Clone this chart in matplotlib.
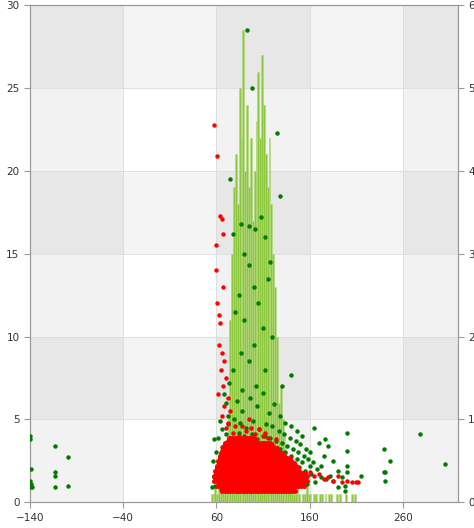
import numpy as np
import matplotlib.pyplot as plt

#-------------------------------------------------------------------------
# histogram (right axis, counts), bins of width 2
hist_left = np.arange(54, 210, 2)
hist_counts = [1, 1, 2, 1, 2, 3, 2, 4,
               6, 10, 22,
               30, 38,
               42, 36, 50, 44, 57, 40, 48, 38, 44, 34,
               40, 46, 52, 44, 54, 48, 42, 38, 44, 36, 30, 26, 20,
               12, 14, 10, 8, 6, 4, 2,
               2, 1, 1, 2, 1, 0, 1, 1, 2, 1, 1, 0, 1, 1, 0, 1, 1, 0, 1, 0,
               1, 1, 0, 0, 1, 0, 1, 0, 0, 1, 0, 0, 1, 0, 1]

# green points
green_x = [-140, -140, -139, -140, -139, -140, -138, -140, -113, -113, -113, -113, -99, -99,
           165, 200, 200, 200, 200, 198, 198, 215, 240, 240, 241, 246, 241, 278, 305,
           176, 180, 185, 190, 185, 190, 175, 170, 172, 182, 195,
           93, 98, 125, 128, 75, 78, 86, 95, 101, 108, 112, 90, 95, 118, 115, 100, 105,
           84, 80, 90, 110, 120, 100, 140, 86, 95, 112, 130, 78, 102, 88, 70, 72, 64,
           68, 74, 82, 88, 96, 104, 110, 116, 122, 128, 134, 140, 146, 152,
           66, 72, 79, 85, 92, 99, 106, 113, 120, 127, 133, 139, 145, 150, 156, 160,
           58, 62, 70, 76, 84, 90, 98, 104, 112, 118, 124, 130, 136, 142, 148, 154, 158, 164,
           56, 60, 66, 74, 80, 88, 94, 102, 108, 116, 122, 128, 134, 140, 146, 152, 160, 168,
           57, 63, 69, 77, 86, 93, 100, 107, 114, 121, 131, 137, 143, 149, 155, 162, 172,
           55, 59, 65, 82, 97, 119, 135, 147, 157, 166, 178]
green_y = [4.0, 3.8, 2.0, 1.3, 1.1, 0.9, 0.9, 1.0, 3.4, 1.8, 1.6, 0.9, 2.7, 1.0,
           4.5, 4.2, 3.1, 2.2, 1.8, 1.0, 0.7, 1.6, 3.2, 1.8, 1.3, 2.5, 1.8, 4.1, 2.3,
           3.8, 3.4, 2.5, 1.9, 1.3, 0.9, 2.8, 3.6, 2.2, 1.6, 1.5,
           28.5, 25.0, 22.3, 18.5, 19.5, 16.2, 16.8, 16.7, 16.5, 17.2, 16.0, 15.0, 14.3, 14.5, 13.5, 13.0, 12.0,
           12.5, 11.5, 11.0, 10.5, 10.0, 9.5, 7.7, 9.0, 8.5, 8.0, 7.0, 8.0, 7.0, 6.8, 6.0, 5.2, 4.9,
           6.5, 7.2, 6.1, 5.5, 6.3, 5.8, 6.6, 5.4, 5.9, 5.2, 4.8, 4.6, 4.3, 4.0,
           4.4, 4.7, 5.0, 4.8, 4.5, 4.9, 4.4, 4.7, 4.6, 4.3, 4.1, 3.9, 3.7, 3.5, 3.2, 3.0,
           3.8, 3.9, 4.1, 3.9, 4.2, 4.0, 4.1, 3.8, 4.0, 3.9, 3.7, 3.6, 3.4, 3.2, 3.0, 2.8, 2.6, 2.4,
           2.5, 3.0, 3.3, 3.5, 3.6, 3.7, 3.8, 3.6, 3.5, 3.4, 3.3, 3.2, 3.0, 2.8, 2.6, 2.4, 2.2, 2.0,
           1.5, 2.0, 2.7, 3.0, 3.2, 3.3, 3.1, 3.0, 2.9, 2.8, 2.7, 2.5, 2.3, 2.1, 1.9, 1.7, 1.5,
           0.9, 1.0, 0.8, 0.7, 0.7, 0.8, 0.9, 1.0, 1.1, 1.2, 1.4]

# red points
red_x = [57, 61, 64, 66, 67, 60, 60, 67, 61, 63, 64, 63, 66, 68, 65, 70, 67, 62, 72, 68, 75, 66, 73, 80, 70, 95, 110, 120,
         78, 84, 92, 101, 106, 115, 124, 88, 97, 112,
         160, 165, 170, 175, 180, 185, 190, 195, 200, 205, 210, 212]
red_y = [22.8, 20.9, 17.3, 17.1, 16.2, 15.5, 14.0, 13.0, 12.0, 11.3, 10.8, 9.5, 9.0, 8.5, 8.0, 7.5, 7.0, 6.5, 6.3, 5.8, 5.5, 5.2, 4.8, 4.6, 4.5, 5.0, 4.0, 3.5,
         4.2, 4.0, 4.3, 4.1, 4.4, 3.9, 3.8, 4.6, 4.5, 4.2,
         1.8, 1.6, 1.7, 1.4, 1.5, 1.3, 1.6, 1.2, 1.3, 1.2, 1.2, 1.2]

# dense red blob: rows of x positions at given y levels
blob_levels = [0.7, 1.0, 1.3, 1.6, 1.9, 2.2, 2.5, 2.8, 3.1, 3.4, 3.7]
blob_x0 = [66, 61, 58, 58, 59, 61, 62, 64, 66, 68, 72]
blob_x1 = [146, 156, 160, 158, 152, 148, 142, 136, 128, 120, 104]

#-------------------------------------------------------------------------

fig = plt.figure(figsize = (4.74, 5.28), dpi = 100)
ax = fig.add_axes([0.063, 0.049, 0.903, 0.941])
ax2 = ax.twinx()
ax.set_zorder(ax2.get_zorder() + 1)
ax.patch.set_visible(False)

xmax = 319
xb = [-140, -40, 60, 160, 260, xmax]
for i in range(len(xb) - 1):
    for j in range(6):
        shade = (i % 2 == 0) * 0.05 + (j % 2 == 1) * 0.045
        c = 1 - shade
        ax2.fill_between([xb[i], xb[i+1]], j*10, (j+1)*10, color = (c, c, c), lw = 0, zorder = 0)
for v in xb[1:-1]:
    ax2.axvline(v, color = "#dcdcdc", lw = 0.6, zorder = 0.5)
for v in range(10, 60, 10):
    ax2.axhline(v, color = "#dcdcdc", lw = 0.6, zorder = 0.5)

ax2.bar(hist_left, hist_counts, width = 2, align = "edge", color = "#8dc63f",
        edgecolor = "#b3d97d", lw = 0.4, zorder = 1)

ax.plot(green_x, green_y, "o", color = "#007a00", ms = 3.2, mew = 0, zorder = 3)

bx = []
by = []
for k in range(len(blob_levels)):
    xs = np.arange(blob_x0[k], blob_x1[k], 3)
    bx.extend(xs)
    by.extend([blob_levels[k]] * len(xs))
    bx.extend(xs[:-1] + 1.5)
    by.extend([blob_levels[k] + 0.15] * (len(xs) - 1))
ax.plot(bx, by, "o", color = "#ff0000", ms = 3.6, mew = 0, zorder = 4)
ax.plot(red_x, red_y, "o", color = "#ff0000", ms = 3.2, mew = 0, zorder = 4)

ax.set_xlim(-140, xmax)
ax.set_ylim(0, 30)
ax2.set_ylim(0, 60)
ax.set_xticks([-140, -40, 60, 160, 260])
ax.set_yticks(range(0, 31, 5))
ax2.set_yticks(range(0, 61, 10))

for a in [ax, ax2]:
    for s in a.spines.values():
        s.set_color("#999999")
    a.tick_params(colors = "#999999", labelcolor = "#333333", labelsize = 7.5, length = 4, width = 0.8)

plt.savefig("out.png", dpi = 100)
